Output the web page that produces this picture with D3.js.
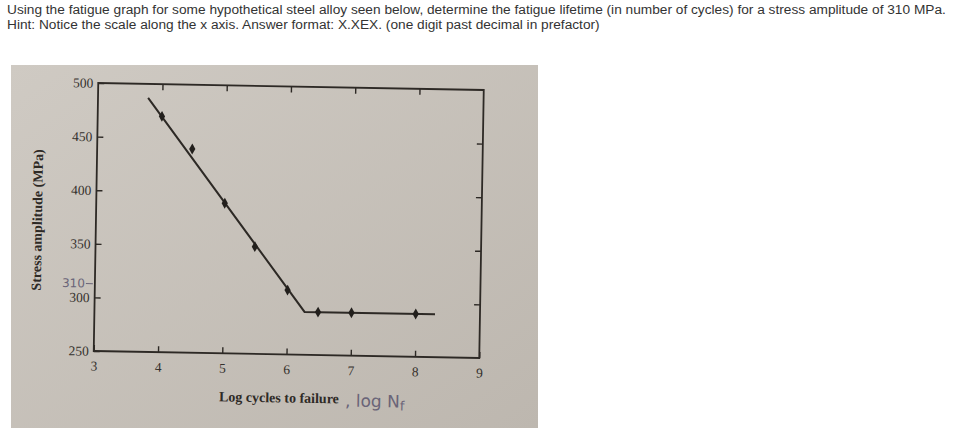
<!DOCTYPE html>
<html>
<head>
<meta charset="utf-8">
<script src="https://cdn.jsdelivr.net/npm/d3@7"></script>
<style>
  html, body { margin: 0; padding: 0; background: #ffffff; }
  svg { display: block; }
</style>
</head>
<body>
<svg id="chart" width="963" height="438"></svg>
<script>
// ---- data ----
const questionLines = [
  "Using the fatigue graph for some hypothetical steel alloy seen below, determine the fatigue lifetime (in number of cycles) for a stress amplitude of 310 MPa.",
  "Hint: Notice the scale along the x axis. Answer format: X.XEX. (one digit past decimal in prefactor)"
];
const logCycles = [4.0, 4.48, 5.0, 5.48, 6.0, 6.48, 7.0, 8.0];       // log Nf of data points
const stressAmp = [470, 440, 390, 350, 310, 290, 290, 290];          // MPa
const fitLogCycles = [3.78, 6.27, 8.3];                               // fitted S-N line
const fitStress = [487, 290, 290];
const xTickValues = [3, 4, 5, 6, 7, 8, 9];
const yTickValues = [250, 300, 350, 400, 450, 500];
const xDomain = [3, 9];
const yDomain = [250, 500];
const xTitle = "Log cycles to failure";
const yTitle = "Stress amplitude (MPa)";
const handNote = "log N";
const handSub = "f";
const handY = "310";

// ---- drawing ----
const svg = d3.select("#chart");
const ink = "#2d2925";

// question text
svg.selectAll("text.q").data(questionLines).join("text")
  .attr("class", "q")
  .attr("x", 7)
  .attr("y", (d, i) => 13.5 + i * 15)
  .attr("font-family", "Liberation Sans, Arial, sans-serif")
  .attr("font-size", 13.7)
  .attr("fill", "#333333")
  .text(d => d);

// photo background
const defs = svg.append("defs");
const grad = defs.append("linearGradient").attr("id", "paper")
  .attr("x1", "0").attr("y1", "0").attr("x2", "1").attr("y2", "1");
grad.append("stop").attr("offset", "0").attr("stop-color", "#cfcac3");
grad.append("stop").attr("offset", "1").attr("stop-color", "#bdb7af");
svg.append("rect").attr("x", 11).attr("y", 65).attr("width", 527).attr("height", 363)
  .attr("fill", "url(#paper)");

// plot area (slightly skewed like the photographed page)
const W = 385.5, H = 268;
const g = svg.append("g")
  .attr("transform", `matrix(1, ${7 / W}, ${-4.5 / H}, 1, 98.25, 83)`);

const x = d3.scaleLinear().domain(xDomain).range([0, W]);
const y = d3.scaleLinear().domain(yDomain).range([H, 0]);

const serif = "Liberation Serif, Times New Roman, serif";

function styleAxis(sel, showText) {
  sel.select(".domain").remove();
  sel.selectAll(".tick line").attr("stroke", ink).attr("stroke-width", 1.4);
  sel.selectAll(".tick text")
    .attr("font-family", serif).attr("font-size", 13.5).attr("fill", "#35312d")
    .style("display", showText ? null : "none");
}

g.append("g").attr("transform", `translate(0,${H})`)
  .call(d3.axisBottom(x).tickValues(xTickValues).tickSize(-6).tickPadding(10).tickFormat(d3.format("d")))
  .call(s => styleAxis(s, true));
g.append("g")
  .call(d3.axisTop(x).tickValues(xTickValues.slice(1, -1)).tickSize(-6))
  .call(s => styleAxis(s, false));
g.append("g")
  .call(d3.axisLeft(y).tickValues(yTickValues).tickSize(-6).tickPadding(5).tickFormat(d3.format("d")))
  .call(s => styleAxis(s, true));
g.append("g").attr("transform", `translate(${W},0)`)
  .call(d3.axisRight(y).tickValues(yTickValues.slice(1, -1)).tickSize(-6))
  .call(s => styleAxis(s, false));

// frame
g.append("rect").attr("x", 0).attr("y", 0).attr("width", W).attr("height", H)
  .attr("fill", "none").attr("stroke", ink).attr("stroke-width", 1.8);

// fitted line
const fit = fitLogCycles.map((v, i) => [v, fitStress[i]]);
g.append("path").datum(fit)
  .attr("d", d3.line().x(d => x(d[0])).y(d => y(d[1])))
  .attr("fill", "none").attr("stroke", ink).attr("stroke-width", 2);

// data points
const pts = logCycles.map((v, i) => [v, stressAmp[i]]);
g.selectAll("path.pt").data(pts).join("path")
  .attr("class", "pt")
  .attr("transform", d => `translate(${x(d[0])},${y(d[1])})`)
  .attr("d", d3.symbol(d3.symbolDiamond, 34))
  .attr("fill", "#221f1c");

// axis titles
g.append("text")
  .attr("transform", `translate(-54,${H / 2 + 4}) rotate(-90)`)
  .attr("text-anchor", "middle")
  .attr("font-family", serif).attr("font-weight", "bold").attr("font-size", 14)
  .attr("fill", "#2e2a26")
  .text(yTitle);
g.append("text")
  .attr("x", 126).attr("y", H + 48)
  .attr("font-family", serif).attr("font-weight", "bold").attr("font-size", 14)
  .attr("fill", "#2e2a26")
  .text(xTitle);

// handwritten notes
const hand = "#6a6478";
const note = g.append("text")
  .attr("x", 252).attr("y", H + 51)
  .attr("font-family", "DejaVu Sans, sans-serif").attr("font-size", 17)
  .attr("fill", hand);
note.append("tspan").text(",  ");
note.append("tspan").text(handNote);
note.append("tspan").attr("dy", 3).attr("font-size", 13).text(handSub);

g.append("text")
  .attr("x", -10).attr("y", y(310) + 1)
  .attr("text-anchor", "end")
  .attr("font-family", "DejaVu Sans, sans-serif").attr("font-size", 12)
  .attr("fill", hand)
  .text(handY);
g.append("line")
  .attr("x1", -9).attr("x2", -2).attr("y1", y(310) - 3).attr("y2", y(310) - 3)
  .attr("stroke", hand).attr("stroke-width", 1);
</script>
</body>
</html>
